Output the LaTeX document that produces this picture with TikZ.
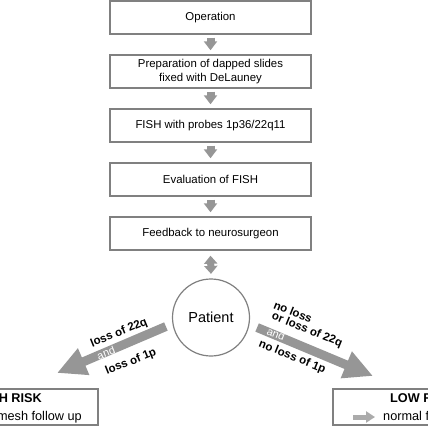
\documentclass[tikz,border=0pt]{standalone}
\usepackage{fontspec}
\setmainfont{Liberation Sans}
\usetikzlibrary{arrows.meta}
\definecolor{boxgray}{RGB}{128,128,128}
\definecolor{arrgray}{RGB}{150,150,150}

\begin{document}
\begin{tikzpicture}[x=1pt,y=1pt,
    stepbox/.style={draw=boxgray, line width=1.4pt, minimum width=201pt, minimum height=33pt,
        align=center, inner sep=0pt, font=\fontsize{11.4}{14}\selectfont},
    riskbox/.style={draw=boxgray, line width=1.4pt, minimum width=169pt, minimum height=36pt},
    downarrow/.style={draw=arrgray, line width=8pt, -{Triangle[width=13pt,length=9pt]}},
    twoway/.style={draw=arrgray, line width=7pt, {Triangle[width=13pt,length=8pt]}-{Triangle[width=13pt,length=8pt]}},
    bigarrow/.style={draw=arrgray, line width=9pt, -{Triangle[width=27pt,length=29pt]}},
    smallarrow/.style={draw=arrgray!80, line width=5pt, -{Triangle[width=11pt,length=9pt]}},
    lbl/.style={inner sep=0pt, font=\fontsize{11.5}{13}\bfseries\selectfont},
    andlbl/.style={inner sep=0pt, text=white, font=\fontsize{11}{13}\selectfont},
    risktext/.style={inner sep=0pt, font=\fontsize{12.7}{15}\selectfont},
    risktitle/.style={inner sep=0pt, font=\fontsize{12.7}{15}\bfseries\selectfont},
    ]

    \useasboundingbox (0,0) rectangle (428,-428);
    \clip (0,0) rectangle (428,-428);

    % Steps
    \node[stepbox] (op) at (210.5,-17.5) {Operation};
    \node[stepbox] (prep) at (210.5,-71.5) {Preparation of dapped slides\\fixed with DeLauney};
    \node[stepbox] (fish) at (210.5,-125.5) {FISH with probes 1p36/22q11};
    \node[stepbox] (eval) at (210.5,-179.5) {Evaluation of FISH};
    \node[stepbox] (feed) at (210.5,-233.5) {Feedback to neurosurgeon};

    \foreach \a/\b in {op/prep, prep/fish, fish/eval, eval/feed}
        \draw[downarrow] ([yshift=-3pt]\a.south) -- ([yshift=4pt]\b.north);

    % Patient
    \node[circle, draw=boxgray, line width=1.2pt, minimum size=77pt,
        font=\fontsize{14.5}{16}\selectfont] (pat) at (211,-317.5) {Patient};
    \draw[twoway] ([yshift=-5pt]feed.south) -- ([yshift=4.5pt]pat.north);

    % Risk boxes
    \node[riskbox] (high) at (13.5,-407) {};
    \node[riskbox] (low) at (417.5,-407) {};
    \node[risktitle, anchor=east] (hightitle) at (42,-398) {HIGH RISK};
    \node[risktext, anchor=east] (highcare) at (82,-417) {close-mesh follow up};
    \node[risktitle, anchor=west] (lowtitle) at (390,-398) {LOW RISK};
    \node[risktext, anchor=west] (lowcare) at (383,-417) {normal follow up};
    \draw[smallarrow] ([xshift=-30pt]lowcare.west) -- ([xshift=-8pt]lowcare.west);

    % Branches
    \coordinate (hightip) at (57,-373);
    \coordinate (lowtip) at (373,-376);
    \draw[bigarrow] ([shift={(-6,-9)}]pat.west) -- (hightip);
    \draw[bigarrow] ([shift={(7,-10)}]pat.east) -- (lowtip);

    \node[lbl, rotate=22] (l22q) at (119,-333) {loss of 22q};
    \node[andlbl, rotate=22] (land) at (106,-353) {and};
    \node[lbl, rotate=22] (l1p) at (131,-362) {loss of 1p};
    \node[lbl, rotate=-22] (rno) at (293,-312) {no loss};
    \node[lbl, rotate=-22] (r22q) at (307,-330) {or loss of 22q};
    \node[andlbl, rotate=-22] (rand) at (276,-334) {and};
    \node[lbl, rotate=-22] (r1p) at (292,-357) {no loss of 1p};

\end{tikzpicture}
\end{document}
